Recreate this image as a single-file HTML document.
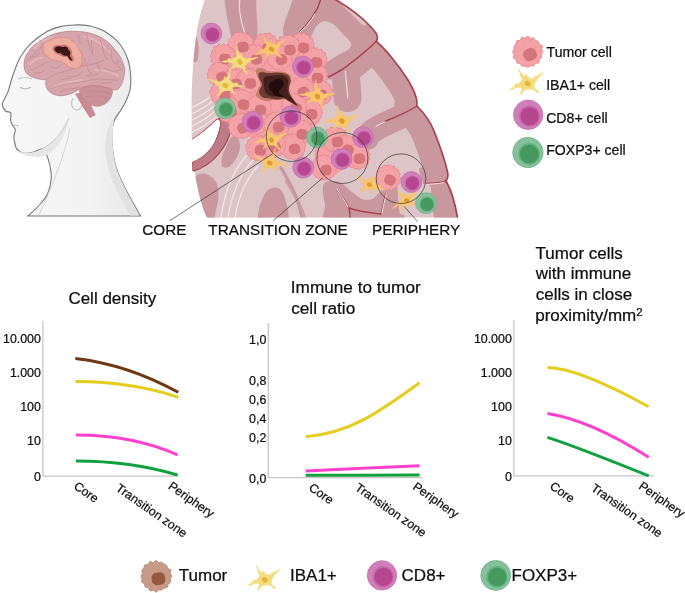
<!DOCTYPE html><html><head><meta charset="utf-8"><title>Figure</title>
<style>html,body{margin:0;padding:0;background:#fff}svg{display:block}text{font-family:"Liberation Sans",Arial,sans-serif;fill:#0c0c0c;stroke:#0c0c0c;stroke-width:0.22px}</style></head><body>
<svg width="685" height="593" viewBox="0 0 685 593">
<rect width="685" height="593" fill="#fff"/>
<g id="head">
<defs><linearGradient id="hg" x1="0" y1="0" x2="1" y2="0"><stop offset="0" stop-color="#f7f7f7"/><stop offset="0.6" stop-color="#f3f3f3"/><stop offset="1" stop-color="#e9e9e9"/></linearGradient></defs>
<path d="M77.7 24.7 C75.0 25.0 66.4 25.3 61.3 26.4 C56.2 27.5 52.1 28.6 47.0 31.5 C41.9 34.4 35.1 39.5 30.7 43.7 C26.3 48.0 23.1 52.4 20.4 57.0 C17.7 61.6 15.9 67.3 14.3 71.3 C12.8 75.3 12.1 77.8 11.1 81.0 C10.1 84.2 9.4 87.8 8.4 90.6 C7.4 93.4 6.0 95.7 5.0 98.0 C4.0 100.3 2.1 102.4 2.2 104.6 C2.3 106.8 4.2 109.6 5.6 111.0 C7.0 112.4 10.0 111.4 10.8 112.9 C11.6 114.4 10.3 117.9 10.6 120.0 C10.9 122.1 11.7 123.9 12.5 125.5 C13.3 127.1 15.1 127.8 15.3 129.6 C15.5 131.4 14.0 134.2 13.9 136.6 C13.8 139.0 14.4 141.8 15.0 144.0 C15.6 146.2 15.8 148.4 17.5 150.0 C19.2 151.6 22.2 153.0 25.0 153.3 C27.8 153.6 31.2 152.7 34.0 152.0 C36.8 151.3 39.7 148.6 41.8 149.0 C43.9 149.4 45.1 151.9 46.5 154.7 C47.9 157.5 49.2 162.1 50.0 166.0 C50.8 169.9 51.7 173.3 51.3 178.0 C50.9 182.7 49.6 189.3 47.5 194.0 C45.4 198.7 41.8 202.3 38.5 206.0 C35.2 209.7 29.7 214.3 27.9 216.0 L140.5 216 C139.1 213.5 134.8 206.0 132.0 201.0 C129.2 196.0 126.5 191.2 124.0 186.0 C121.5 180.8 118.8 175.2 117.0 170.0 C115.2 164.8 114.3 161.3 113.4 155.0 C112.5 148.7 111.6 137.8 111.8 132.0 C112.0 126.2 113.0 123.7 114.5 120.0 C116.0 116.3 119.1 113.2 121.0 110.0 C122.9 106.8 124.5 104.3 126.0 101.0 C127.5 97.7 129.2 93.9 130.0 90.0 C130.8 86.1 131.1 82.6 130.8 77.6 C130.5 72.6 130.0 65.8 128.0 60.0 C126.0 54.2 123.0 47.8 119.0 43.0 C115.0 38.2 108.8 33.8 104.0 31.0 C99.2 28.2 94.4 27.1 90.0 26.0 C85.6 24.9 79.8 24.9 77.7 24.7 Z" fill="url(#hg)" stroke="#777" stroke-width="1.1"/>
<path d="M112 120 C106 130 104 145 106 158 C109 175 118 195 130 215.5 L139.5 215.5 C131 200 123 186 117 170 C113 158 111 135 114 121Z" fill="#e2e2e2"/>
<path d="M17.5 150.5 C25 154 34 153 41.8 149.5 C52 144 62 134 68 120 C66 136 58 150 45 156 C36 158 24 157 17.5 150.5Z" fill="#e6e6e6"/>
<path d="M41.8 149 C52 144 62 134 69 118" fill="none" stroke="#c4c4c4" stroke-width="0.9"/>
<path d="M70 128 C66 150 58 170 50 190 C46 200 42 208 39 215" fill="none" stroke="#d4d4d4" stroke-width="1"/>
<path d="M20 87.5 Q25 90.5 31 87.5" fill="none" stroke="#999" stroke-width="0.8"/>
<path d="M18 79 Q24 76 32 79" fill="none" stroke="#d0d0d0" stroke-width="1.6"/>
<path d="M12.5 125.5 Q16 125 19 126" fill="none" stroke="#aaa" stroke-width="0.7"/>
<path d="M73 98 C70.5 103 71.5 109 76 110 C79 110.5 81.5 108 82 105" fill="none" stroke="#a8a8a8" stroke-width="0.8"/>
<path d="M75.6 94 C80 102 85 110 90 117.5 L95.2 115 C92 108 88 100 85.5 92Z" fill="#c98a92" stroke="#b97b84" stroke-width="0.6"/>
<path d="M78.7 88 C88 84 104 85 112.5 89.5 C113 96 109 102 104 104.5 C98 108 91 106 86 102 C82 98 79.5 93 78.7 88Z" fill="#cb9199" stroke="#b97d86" stroke-width="0.6"/>
<path d="M84 92 C92 90 102 91 110 94" fill="none" stroke="#b97d86" stroke-width="0.5"/>
<path d="M86 97 C93 95 101 96 108 99" fill="none" stroke="#b97d86" stroke-width="0.5"/>
<path d="M90 102 C95 100.5 100 101 104 103" fill="none" stroke="#b97d86" stroke-width="0.5"/>
<path d="M24.1 65 C24 59 26 55 28.5 52 C31 47 36 43.5 42 40.2 C47 36.5 52 34.3 58 33 C65 31.2 71 31 78 31.5 C85 31.8 92 33.2 98 36 C104 38.5 110 43 114.4 49 C119 54 122 59 123.6 65 C125 69 125 73 123.6 77.5 C123 82 121 86 118.5 88.7 C116 90.5 113 90 110 88.7 C104 86 98 85.5 92 85.6 C87 86 83 87 79.7 88.7 C76 91.5 72 93.5 67.4 94.8 C63 96 59 96 55.2 94.8 C51 93.5 48.5 91.5 47 88.7 C45.5 85.5 45.5 82.5 46 79.5 C43 80 40 79.5 36.8 78.5 C33 77.5 29.5 76 26.6 73.4 C24.8 71 24.1 68 24.1 65Z" fill="#d5a5ab" stroke="#bb838c" stroke-width="0.8"/>
<path d="M34 48 C40 42 48 38 56 36" fill="none" stroke="#e3bcc0" stroke-width="2.2" stroke-linecap="round" opacity="0.8"/>
<path d="M84 36 C94 39 104 45 110 53" fill="none" stroke="#e3bcc0" stroke-width="2.2" stroke-linecap="round" opacity="0.8"/>
<path d="M56 86 C64 82 74 82 82 80" fill="none" stroke="#e3bcc0" stroke-width="2.2" stroke-linecap="round" opacity="0.8"/>
<path d="M96 70 C104 70 112 72 118 76" fill="none" stroke="#e3bcc0" stroke-width="2.2" stroke-linecap="round" opacity="0.8"/>
<path d="M30 64 C34 60 38 58 42 58" fill="none" stroke="#e3bcc0" stroke-width="2.2" stroke-linecap="round" opacity="0.8"/>
<path d="M28 60 C34 54 38 52 42 46" fill="none" stroke="#bf8a92" stroke-width="0.7"/>
<path d="M30 70 C38 68 42 64 48 62" fill="none" stroke="#bf8a92" stroke-width="0.7"/>
<path d="M46 79.5 C56 72 66 72 76 68 C86 64 94 66 104 60" fill="none" stroke="#bf8a92" stroke-width="0.7"/>
<path d="M54 88 C64 82 78 84 90 80 C100 78 108 80 118 80" fill="none" stroke="#bf8a92" stroke-width="0.7"/>
<path d="M86 34 C90 42 88 50 94 56" fill="none" stroke="#bf8a92" stroke-width="0.7"/>
<path d="M100 40 C104 48 102 54 108 60" fill="none" stroke="#bf8a92" stroke-width="0.7"/>
<path d="M40 40 C44 46 42 50 46 54" fill="none" stroke="#bf8a92" stroke-width="0.7"/>
<path d="M104 68 C110 72 114 72 120 70" fill="none" stroke="#bf8a92" stroke-width="0.7"/>
<path d="M60 92 C68 88 74 90 80 86" fill="none" stroke="#bf8a92" stroke-width="0.7"/>
<path d="M84 58 C88 64 86 70 92 74" fill="none" stroke="#bf8a92" stroke-width="0.7"/>
<path d="M112 50 C110 56 112 62 116 64" fill="none" stroke="#bf8a92" stroke-width="0.7"/>
<path d="M66 76 C72 78 78 76 82 72" fill="none" stroke="#bf8a92" stroke-width="0.7"/>
<path d="M30 56 C34 58 38 56 40 52" fill="none" stroke="#bf8a92" stroke-width="0.7"/>
<path d="M50 40 C54 38 56 34 60 34" fill="none" stroke="#bf8a92" stroke-width="0.7"/>
<path d="M78 34 C80 38 78 42 82 44" fill="none" stroke="#bf8a92" stroke-width="0.7"/>
<path d="M92 40 C90 46 94 50 92 54" fill="none" stroke="#bf8a92" stroke-width="0.7"/>
<path d="M108 46 C106 50 108 54 112 56" fill="none" stroke="#bf8a92" stroke-width="0.7"/>
<path d="M96 62 C100 66 98 70 102 72" fill="none" stroke="#bf8a92" stroke-width="0.7"/>
<path d="M74 60 C78 62 80 66 84 64" fill="none" stroke="#bf8a92" stroke-width="0.7"/>
<path d="M50 66 C54 70 60 68 62 64" fill="none" stroke="#bf8a92" stroke-width="0.7"/>
<path d="M34 74 C38 72 42 74 44 70" fill="none" stroke="#bf8a92" stroke-width="0.7"/>
<path d="M70 88 C76 90 80 88 84 90" fill="none" stroke="#bf8a92" stroke-width="0.7"/>
<path d="M100 84 C104 82 108 84 112 82" fill="none" stroke="#bf8a92" stroke-width="0.7"/>
<path d="M118 60 C116 64 118 68 122 70" fill="none" stroke="#bf8a92" stroke-width="0.7"/>
<path d="M86 76 C90 74 94 76 98 74" fill="none" stroke="#bf8a92" stroke-width="0.7"/>
<path d="M60 80 C64 78 68 80 72 78" fill="none" stroke="#bf8a92" stroke-width="0.7"/>
<path d="M42.9 48 C42.5 44 45.5 42 49 40.7 C53 37.5 58 37.8 63.4 37.6 C67 36.8 70 38.5 71.5 40.7 C76 42.5 78 46 78.5 49.5 C81.5 51.5 82.5 55 81.8 58 C82.5 62 82 64 80.7 65.2 C79 68 76 69 73.6 68.2 C70 68.5 67 66.5 66 64 C63.5 63.5 62 62.5 61.3 61.1 C57 61.5 52 60.5 49 58 C45 55.5 43 52 42.9 48Z" fill="#eeae9f" stroke="#d98d80" stroke-width="0.9"/>
<path d="M52.5 48 C53.5 45.5 57 44.5 60 45.5 C63 43.5 67.5 44.5 69 47 C72 49 73 52 71.5 54.5 C74 57.5 74.5 60 73 61.5 C70.5 61.5 68.5 59 67.5 56.5 C64 57.5 61 56.5 59 54.5 C55.5 54.5 52.5 51.5 52.5 48Z" fill="#b86a5c" opacity="0.75"/>
<path d="M54.5 48.5 C56 45.8 60 46 62.5 47 C65 45.5 68.5 47 68.5 49.8 C70.8 51.8 71 54.5 69.5 56 C71.5 58 72.5 60 71.5 61 C69.5 60 68.2 57.8 67.2 55.8 C64.5 56 62 55 60.8 53.2 C57.5 53.5 54.5 51.5 54.5 48.5Z" fill="#3a1714"/>
</g>
<defs><clipPath id="sec"><path d="M205.4 -2 L333 -2 C345 5 359 14.5 369 25 C375 31 379.5 36 376.5 41 L377.5 42.5 C385 49 398 64 408 80 C414 90 418 98 416.8 105 L417.3 106.5 C424 113 430 121 434 131 C440 146 445 160 447.5 172 C448.5 177 447.5 179.5 445.8 181 L446.6 182 C451 190 455 203 457.5 217.5 L207 217.5 C202 208 198 192 194.8 172.5 L192.5 171 L192 162 C200 159 208 153 213 145 C217 138 220.5 128 220 121.5 C219 119 217.5 119 216 120.5 C208 128 200 135 191.8 139.7 L191.6 100 C192 75 194 50 197 30 C199 18 202 8 205.4 -2Z"/></clipPath></defs>
<g clip-path="url(#sec)">
<rect x="185" y="-5" width="280" height="226" fill="#ddc4c6"/>
<g fill="none" stroke="#c9989f" stroke-linecap="round" stroke-linejoin="round">
<path d="M293 -2 C290 10 284 20 283 30 C283 40 288 50 296 56 L330 80 L380 42 L333 -4Z" fill="#c9989f" stroke="none"/>
<path d="M377.5 42.5 C385 49 398 64 408 80 C414 90 418 98 416.8 105" stroke-width="43"/>
<path d="M417.3 106.5 C424 113 430 121 434 131 C440 146 445 160 447.5 172 C448.5 177 447.5 179.5 445.8 181 L446.6 182 C451 190 455 203 457.5 217.5" stroke-width="46"/>
<path d="M378 43 C370 52 357 62 345 71 C346 78 347 88 347.5 98" stroke-width="28"/>
<path d="M417 108 C405 116 392 120.5 381 126 C373 130 368 134 367 138" stroke-width="24"/>
</g>
<path d="M419 168 L447 166 L447 183 L428 183.6 C423 183.6 420 180 419 168Z" fill="#c9989f"/>
<path d="M311.0 38.0 C312.3 34.2 314.0 29.8 316.0 27.0 C318.0 24.2 320.2 22.0 323.0 21.5 C325.8 21.0 329.7 21.9 333.0 24.0 C336.3 26.1 340.0 30.8 343.0 34.0 C346.0 37.2 350.0 40.5 351.0 43.0 C352.0 45.5 351.2 47.0 349.0 49.0 C346.8 51.0 341.8 52.8 338.0 55.0 C334.2 57.2 329.7 61.2 326.0 62.0 C322.3 62.8 319.0 62.0 316.0 60.0 C313.0 58.0 308.8 53.7 308.0 50.0 C307.2 46.3 309.7 41.8 311.0 38.0Z" fill="#ddc4c6"/>
<path d="M224.5 -2 L256.5 -2 C255.5 12 258 24 257.5 36 C257 46 250 52 244 52 C238 52 233 44 230 32 C228 20 225 10 224.5 -2Z" fill="#c9989f"/>
<path d="M195 34 C199 40 200 52 197 62 L192 62 L192 34Z" fill="#c9989f"/>
<path d="M196.0 176.0 C197.8 173.7 202.7 173.0 206.0 174.0 C209.3 175.0 213.9 178.3 216.0 182.0 C218.1 185.7 218.5 191.3 218.5 196.0 C218.5 200.7 216.9 205.7 216.0 210.0 C215.1 214.3 215.2 220.0 213.0 222.0 C210.8 224.0 205.5 224.8 203.0 222.0 C200.5 219.2 199.3 210.7 198.0 205.0 C196.7 199.3 195.3 192.8 195.0 188.0 C194.7 183.2 194.2 178.3 196.0 176.0Z" fill="#c9989f"/>
<path d="M232.0 137.0 C234.0 135.7 236.7 137.3 238.0 139.0 C239.3 140.7 240.2 144.0 240.0 147.0 C239.8 150.0 238.7 153.8 237.0 157.0 C235.3 160.2 232.3 164.3 230.0 166.0 C227.7 167.7 224.4 168.2 223.0 167.0 C221.6 165.8 221.0 162.3 221.5 159.0 C222.0 155.7 224.2 150.7 226.0 147.0 C227.8 143.3 230.0 138.3 232.0 137.0Z" fill="#c9989f"/>
<path d="M262.0 200.0 C263.5 196.7 265.3 192.0 268.0 190.0 C270.7 188.0 275.2 186.7 278.0 188.0 C280.8 189.3 283.5 192.3 285.0 198.0 C286.5 203.7 291.2 218.0 287.0 222.0 C282.8 226.0 264.7 224.0 260.0 222.0 C255.3 220.0 258.7 213.7 259.0 210.0 C259.3 206.3 260.5 203.3 262.0 200.0Z" fill="#c9989f"/>
<path d="M281 168 C288 180 298 195 302 218" fill="none" stroke="#c9989f" stroke-width="3.2" stroke-linecap="round"/>
<path d="M286 181 C294 195 302 205 305 218" fill="none" stroke="#c9989f" stroke-width="2.5" stroke-linecap="round" opacity="0.8"/>
<path d="M323.0 186.0 C323.8 182.0 327.0 181.5 330.0 181.0 C333.0 180.5 337.3 181.2 341.0 183.0 C344.7 184.8 348.5 189.3 352.0 192.0 C355.5 194.7 358.7 197.8 362.0 199.0 C365.3 200.2 369.0 200.2 372.0 199.0 C375.0 197.8 377.3 194.2 380.0 192.0 C382.7 189.8 385.2 187.0 388.0 186.0 C390.8 185.0 395.3 183.7 397.0 186.0 C398.7 188.3 397.5 194.0 398.0 200.0 C398.5 206.0 411.3 218.3 400.0 222.0 C388.7 225.7 342.5 224.8 330.0 222.0 C317.5 219.2 326.2 211.0 325.0 205.0 C323.8 199.0 322.2 190.0 323.0 186.0Z" fill="#c9989f"/>
<path d="M399 184 L426 184 Q431 184 431 189 L431 210 Q431 215 426 215 L404 215 Q399 215 399 210Z" fill="#ddc4c6"/>
<path d="M216 120.5 C217.5 119 219 119 220 121.5 C220.5 128 217 138 213 145 C208 153 200 159 192 162 L192 171.5 C203.5 168.5 213 161.5 220.2 152 C227.5 142 231.5 131.5 230.5 125 C229 118 222 115.5 216 120.5Z" fill="#bd7c87" stroke="#a8424f" stroke-width="1.2"/>
<path d="M191.8 139.7 C200 135 208 128 216 120.5" fill="none" stroke="#a8424f" stroke-width="1.2"/>
<g fill="none" stroke="#f3e6e7" stroke-width="1.3" stroke-linecap="round">
<path d="M191 108.0 C200 104.0 208 99.0 216 92.0"/>
<path d="M191 114.2 C200 110.2 208 105.2 216 98.2"/>
<path d="M191 120.4 C200 116.4 208 111.4 216 104.4"/>
<path d="M191 126.6 C200 122.6 208 117.6 216 110.6"/>
<path d="M191 132.8 C200 128.8 208 123.8 216 116.8"/>
<path d="M221 218 C224 195 232 172 247 155"/>
<path d="M228 218 C231 197 239 176 253 160"/>
<path d="M235 218 C238 199 245 180 258 166"/>
</g>
<g fill="none" stroke="#a8424f" stroke-width="1.5" stroke-linecap="round">
<path d="M321 -2 C318 12 308 24 298 34"/>
<path d="M376.5 41 C368 50 355 60 343 69 C338 72 333 75 328 77"/>
<path d="M417 106 C405 114 392 118 385 121.5"/>
<path d="M446 181.5 C438 183 432 183 427 183.5"/>
<path d="M337.5 190 C342 196 346 202 349 208 C360 212 372 213 381 214 C383 208 384 200 385.5 194"/>
<path d="M349 208 C350 212 350 215 350 218"/>
</g>
<g fill="none" stroke="#f6ecec" stroke-width="1" stroke-linecap="round">
<path d="M240 -2 C238 12 242 24 245 33.5"/>
<path d="M315 14 C311 21 305 28 299 33"/>
<path d="M345.2 71 C346 78 347 88 347.8 98"/>
<path d="M385 122 C381 123.5 378 125 376 126.5"/>
<path d="M427 184.3 C432 184 438 183.8 444 182.5"/>
<path d="M337 189 C341 195 345 201 348 207"/>
<path d="M382 213 C383.5 207 384.5 200 386 194"/>
</g>
</g>
<path d="M333 -2 C345 5 359 14.5 369 25 C375 31 379.5 36 376.5 41 L377.5 42.5 C385 49 398 64 408 80 C414 90 418 98 416.8 105 L417.3 106.5 C424 113 430 121 434 131 C440 146 445 160 447.5 172 C448.5 177 447.5 179.5 445.8 181 L446.6 182 C451 190 455 203 457.5 217.5" fill="none" stroke="#a8424f" stroke-width="1.7"/>
<path d="M214.0 62.0 C215.3 56.0 217.7 51.5 222.0 48.0 C226.3 44.5 234.3 41.8 240.0 41.0 C245.7 40.2 250.7 42.2 256.0 43.0 C261.3 43.8 266.3 45.2 272.0 46.0 C277.7 46.8 284.3 48.0 290.0 48.0 C295.7 48.0 301.0 45.0 306.0 46.0 C311.0 47.0 316.8 50.0 320.0 54.0 C323.2 58.0 324.2 64.0 325.0 70.0 C325.8 76.0 325.7 83.3 325.0 90.0 C324.3 96.7 322.3 104.3 321.0 110.0 C319.7 115.7 319.5 119.3 317.0 124.0 C314.5 128.7 309.2 133.7 306.0 138.0 C302.8 142.3 301.7 147.7 298.0 150.0 C294.3 152.3 289.0 152.7 284.0 152.0 C279.0 151.3 273.3 148.3 268.0 146.0 C262.7 143.7 256.7 140.7 252.0 138.0 C247.3 135.3 243.3 134.0 240.0 130.0 C236.7 126.0 235.5 119.0 232.0 114.0 C228.5 109.0 222.0 105.0 219.0 100.0 C216.0 95.0 214.8 90.3 214.0 84.0 C213.2 77.7 212.7 68.0 214.0 62.0Z" fill="#f4a0a6"/>
<path d="M318.0 142.0 C321.5 138.0 330.3 135.7 336.0 136.0 C341.7 136.3 347.3 141.0 352.0 144.0 C356.7 147.0 362.2 150.5 364.0 154.0 C365.8 157.5 365.7 162.8 363.0 165.0 C360.3 167.2 352.8 165.3 348.0 167.0 C343.2 168.7 338.5 174.0 334.0 175.0 C329.5 176.0 324.2 175.5 321.0 173.0 C317.8 170.5 315.5 165.2 315.0 160.0 C314.5 154.8 314.5 146.0 318.0 142.0Z" fill="#f4a0a6"/>
<path d="M254.4 44.8L252.9 47.2 L253.0 49.8L250.7 51.3 L250.2 54.0L247.6 54.6 L246.1 57.2L243.3 56.3 L241.0 57.8L238.7 56.5 L235.8 57.3L234.4 54.7 L231.9 53.9L231.0 51.5 L228.8 49.8L229.5 47.1 L227.5 44.8L229.0 42.4 L228.6 39.7L230.9 38.0 L231.9 35.7L234.3 34.8 L235.8 32.3L238.7 33.0 L241.0 31.8L243.3 33.5 L246.0 32.8L247.6 34.8 L250.5 35.3L251.2 38.0 L253.1 39.8L252.9 42.4 L254.4 44.8Z" fill="#f4a2a6" stroke="#e6858d" stroke-width="0.8" stroke-linejoin="round"/><path d="M240.3 55.2h0.01M234.0 42.6h0.01M239.3 36.1h0.01M245.5 36.0h0.01M250.2 44.9h0.01M246.5 38.7h0.01M236.1 54.3h0.01" stroke="#e6858d" stroke-width="1" stroke-linecap="round" fill="none"/>
<path d="M275.7 54.0L273.6 55.3 L272.1 57.7L269.2 57.0 L267.1 58.8L264.7 57.6 L262.0 58.4L260.2 56.4 L257.9 55.5L257.0 53.0 L254.1 52.0L254.6 49.1 L252.7 46.9L254.6 44.5 L253.6 41.9L255.4 40.0 L256.2 37.6L258.4 36.2 L259.8 33.8L262.8 34.7 L264.9 33.3L267.3 34.0 L270.1 32.9L271.7 35.5 L274.2 36.0L275.2 38.4 L277.2 40.0L277.2 42.6 L279.0 44.7L277.8 47.1 L278.2 49.7L276.2 51.4 L275.7 54.0Z" fill="#f4a2a6" stroke="#e6858d" stroke-width="0.8" stroke-linejoin="round"/><path d="M267.8 54.7h0.01M264.2 52.9h0.01M270.9 37.7h0.01M261.0 39.6h0.01M276.7 45.3h0.01M272.2 51.7h0.01M264.2 35.9h0.01" stroke="#e6858d" stroke-width="1" stroke-linecap="round" fill="none"/>
<path d="M303.9 59.0L301.3 57.8 L298.8 57.9L296.9 56.2 L293.9 56.6L292.9 53.9 L290.4 52.7L290.7 49.8 L288.6 47.8L289.6 45.3 L288.8 42.7L291.0 40.9 L291.0 38.1L293.5 37.0 L294.5 34.4L297.2 34.1 L299.3 32.3L301.9 33.7 L304.5 32.9L306.4 34.9 L308.9 35.3L309.9 37.7 L312.6 38.6L312.6 41.4 L314.4 43.4L313.8 45.9 L314.4 48.5L312.5 50.4 L312.0 53.0L309.5 53.9 L308.5 56.5L305.8 56.4 L303.9 59.0Z" fill="#f4a2a6" stroke="#e6858d" stroke-width="0.8" stroke-linejoin="round"/><path d="M290.4 44.9h0.01M298.0 38.5h0.01M309.8 39.1h0.01M300.5 34.8h0.01M302.4 35.2h0.01M294.8 54.5h0.01M309.3 43.7h0.01" stroke="#e6858d" stroke-width="1" stroke-linecap="round" fill="none"/>
<path d="M281.5 58.8L280.1 56.7 L277.7 55.6L277.2 53.0 L275.2 51.1L276.5 48.5 L275.6 46.1L276.5 43.8 L276.9 41.3L279.3 40.1 L279.8 37.0L282.8 37.1 L284.6 34.8L287.3 36.0 L289.8 34.7L291.8 36.8 L294.7 36.4L296.1 38.7 L298.4 39.9L298.9 42.5 L300.8 44.4L299.5 47.1 L301.2 49.6L299.3 51.7 L299.1 54.3L296.6 55.4 L296.1 58.5L293.2 58.5 L291.4 60.7L288.7 60.0 L286.2 61.0L284.0 59.3 L281.5 58.8Z" fill="#f4a2a6" stroke="#e6858d" stroke-width="0.8" stroke-linejoin="round"/><path d="M279.8 54.2h0.01M277.7 51.5h0.01M293.5 42.5h0.01M293.3 53.9h0.01M296.8 45.9h0.01M282.1 41.8h0.01M279.2 47.4h0.01" stroke="#e6858d" stroke-width="1" stroke-linecap="round" fill="none"/>
<path d="M210.9 61.1L211.6 58.5 L210.1 56.1L211.7 54.0 L211.6 51.4L213.5 49.8 L213.9 46.8L216.8 46.4 L218.5 44.2L221.3 45.3 L223.7 43.7L225.9 45.5 L228.5 45.3L229.9 47.5 L232.5 48.2L233.5 50.5 L235.6 52.3L235.0 55.0 L236.4 57.5L234.3 59.7 L234.6 62.3L232.6 64.0 L231.9 66.7L229.2 67.2 L227.5 69.5L224.7 68.2 L222.3 70.0L220.1 68.4 L217.4 68.6L216.1 66.1 L213.3 65.5L213.1 62.7 L210.9 61.1Z" fill="#f4a2a6" stroke="#e6858d" stroke-width="0.8" stroke-linejoin="round"/><path d="M232.8 52.5h0.01M214.9 54.3h0.01M231.0 51.6h0.01M230.8 49.6h0.01M214.1 56.3h0.01M215.7 51.6h0.01M227.5 64.0h0.01" stroke="#e6858d" stroke-width="1" stroke-linecap="round" fill="none"/>
<path d="M242.1 52.5L244.2 50.7 L244.7 48.0L247.4 47.2 L249.0 45.0L251.7 45.2 L254.1 44.5L256.4 45.4 L259.2 44.4L260.8 46.9 L263.7 47.2L263.9 50.3 L266.4 51.7L265.9 54.4 L267.6 56.7L266.3 59.0 L266.3 61.5L264.4 63.2 L263.9 65.9L261.6 67.0 L260.0 69.3L257.2 68.4 L255.0 70.5L252.6 68.5 L249.9 69.5L248.4 66.9 L245.9 66.3L244.6 64.2 L242.9 62.4L243.2 59.8 L240.9 57.6L242.5 55.1 L242.1 52.5Z" fill="#f4a2a6" stroke="#e6858d" stroke-width="0.8" stroke-linejoin="round"/><path d="M251.8 67.8h0.01M244.9 54.7h0.01M257.6 67.6h0.01M250.5 46.8h0.01M261.1 51.9h0.01M249.4 63.2h0.01M259.1 63.1h0.01" stroke="#e6858d" stroke-width="1" stroke-linecap="round" fill="none"/>
<path d="M272.9 45.8L275.7 46.0 L277.9 44.5L280.4 45.8 L282.9 45.4L284.9 46.8 L287.6 47.2L288.7 49.6 L290.8 51.2L291.0 53.7 L292.2 56.0L291.6 58.4 L292.3 61.1L290.0 62.8 L289.8 65.6L287.3 66.6 L285.7 68.6L283.2 68.8 L281.1 70.8L278.6 69.2 L275.9 70.4L274.1 68.2 L271.2 68.1L270.6 65.1 L268.5 63.7L268.0 61.3 L266.2 59.1L267.7 56.6 L267.3 54.1L269.1 52.2 L269.1 49.3L271.9 48.6 L272.9 45.8Z" fill="#f4a2a6" stroke="#e6858d" stroke-width="0.8" stroke-linejoin="round"/><path d="M288.6 54.6h0.01M282.5 66.9h0.01M272.5 65.9h0.01M287.3 52.5h0.01M273.3 49.6h0.01M283.3 47.0h0.01M288.1 59.0h0.01" stroke="#e6858d" stroke-width="1" stroke-linecap="round" fill="none"/>
<path d="M316.9 47.6L318.8 49.5 L321.8 49.2L322.6 52.1 L325.3 52.9L325.3 55.7 L326.8 57.7L326.4 60.2 L326.9 62.6L325.5 64.7 L325.0 67.2L322.7 68.4 L321.8 71.0L319.2 71.5 L317.1 72.7L314.6 72.0 L312.0 73.3L309.9 71.6 L307.3 71.3L306.2 68.7 L303.3 67.9L303.9 64.8 L301.3 63.0L302.8 60.4 L302.0 57.9L303.8 56.0 L303.7 53.2L305.8 51.8 L307.3 49.8L309.8 49.3 L311.8 47.4L314.4 48.5 L316.9 47.6Z" fill="#f4a2a6" stroke="#e6858d" stroke-width="0.8" stroke-linejoin="round"/><path d="M307.3 58.1h0.01M322.0 63.3h0.01M310.7 52.2h0.01M310.7 69.1h0.01M306.4 62.7h0.01M317.3 50.7h0.01M314.9 69.8h0.01" stroke="#e6858d" stroke-width="1" stroke-linecap="round" fill="none"/>
<path d="M229.9 66.7L230.8 69.1 L232.1 71.2L232.0 73.7 L232.6 76.1L231.2 78.2 L232.0 81.3L229.0 82.2 L228.3 85.1L225.5 85.3 L223.7 87.3L221.1 86.6 L218.7 87.5L216.4 86.4 L214.0 85.9L212.6 83.8 L210.3 82.7L209.7 80.3 L207.6 78.5L207.9 75.9 L207.1 73.5L208.9 71.4 L208.7 68.7L210.5 67.0 L212.0 65.0L214.4 64.2 L216.3 62.4L218.9 62.8 L221.3 62.0L223.5 63.3 L226.2 63.3L227.6 65.6 L229.9 66.7Z" fill="#f4a2a6" stroke="#e6858d" stroke-width="0.8" stroke-linejoin="round"/><path d="M227.8 69.2h0.01M224.7 80.7h0.01M228.7 71.7h0.01M223.8 85.1h0.01M211.1 70.0h0.01M226.2 69.1h0.01M213.3 83.2h0.01" stroke="#e6858d" stroke-width="1" stroke-linecap="round" fill="none"/>
<path d="M247.0 82.0L245.5 84.3 L245.6 86.9L244.0 88.7 L242.7 90.8L240.4 91.8 L239.0 94.3L236.1 93.2 L233.8 94.9L231.5 93.5 L229.0 93.3L227.3 91.5 L224.5 91.0L224.0 88.2 L221.6 86.7L222.6 83.9 L221.2 81.6L222.7 79.4 L222.0 76.6L224.0 74.8 L224.8 72.3L227.4 71.6 L229.2 69.8L231.8 69.9 L234.2 69.2L236.5 70.4 L239.3 69.6L240.9 71.9 L243.3 72.8L243.7 75.5 L245.9 77.1L245.5 79.7 L247.0 82.0Z" fill="#f4a2a6" stroke="#e6858d" stroke-width="0.8" stroke-linejoin="round"/><path d="M232.0 92.1h0.01M237.4 92.0h0.01M239.4 76.7h0.01M227.3 88.2h0.01M242.8 83.1h0.01M240.4 77.5h0.01M227.6 77.4h0.01" stroke="#e6858d" stroke-width="1" stroke-linecap="round" fill="none"/>
<path d="M258.4 89.9L255.7 90.7 L254.4 93.1L251.5 92.5 L249.4 94.7L247.0 93.3 L244.3 93.8L242.7 91.4 L239.9 91.2L239.2 88.5 L237.0 87.0L236.7 84.5 L234.9 82.2L237.1 79.8 L235.8 77.0L238.1 75.4 L238.7 72.8L241.3 72.0 L242.6 69.4L245.4 69.9 L247.6 68.1L250.0 69.4 L252.5 69.3L254.5 70.8 L257.4 71.1L258.2 73.8 L260.3 75.4L259.6 78.3 L261.0 80.4L260.0 82.8 L261.3 85.6L258.7 87.1 L258.4 89.9Z" fill="#f4a2a6" stroke="#e6858d" stroke-width="0.8" stroke-linejoin="round"/><path d="M241.3 89.4h0.01M244.8 90.0h0.01M241.6 84.2h0.01M239.4 75.9h0.01M253.0 88.1h0.01M242.2 85.2h0.01M238.0 81.5h0.01" stroke="#e6858d" stroke-width="1" stroke-linecap="round" fill="none"/>
<path d="M317.5 88.7L315.0 87.7 L312.3 88.9L310.5 86.5 L307.8 86.4L306.7 83.9 L304.6 82.4L304.3 79.9 L302.5 77.8L303.4 75.3 L303.2 72.8L304.9 70.9 L305.3 68.3L307.3 66.9 L308.6 64.5L311.5 65.0 L313.4 62.4L316.0 63.6 L318.6 62.9L320.5 64.9 L323.0 65.5L324.0 68.0 L326.7 69.0L326.3 71.8 L328.1 73.8L327.2 76.3 L327.7 78.8L326.2 80.8 L326.0 83.5L323.7 84.7 L322.3 87.0L319.6 87.1 L317.5 88.7Z" fill="#f4a2a6" stroke="#e6858d" stroke-width="0.8" stroke-linejoin="round"/><path d="M305.6 75.8h0.01M307.4 78.0h0.01M326.7 75.6h0.01M320.9 67.3h0.01M312.2 83.3h0.01M313.7 83.1h0.01M316.4 67.0h0.01" stroke="#e6858d" stroke-width="1" stroke-linecap="round" fill="none"/>
<path d="M313.2 103.9L311.9 101.6 L309.3 100.6L309.5 97.7 L307.8 95.8L308.2 93.3 L307.3 90.8L308.6 88.6 L308.7 85.9L311.2 84.7 L312.2 82.2L314.9 81.9 L317.0 80.5L319.5 81.0 L321.9 80.2L324.2 81.3 L326.5 82.0L328.2 83.9 L330.2 85.3L330.9 87.7 L332.5 89.7L331.8 92.3 L333.3 94.9L330.8 96.7 L330.8 99.3L329.0 101.1 L327.7 103.4L324.9 103.3 L323.2 106.0L320.5 105.0 L318.1 105.3L316.0 103.9 L313.2 103.9Z" fill="#f4a2a6" stroke="#e6858d" stroke-width="0.8" stroke-linejoin="round"/><path d="M325.6 99.2h0.01M314.3 87.3h0.01M317.6 85.7h0.01M325.0 102.0h0.01M312.8 98.0h0.01M312.5 87.6h0.01M314.5 97.7h0.01" stroke="#e6858d" stroke-width="1" stroke-linecap="round" fill="none"/>
<path d="M210.6 96.9L210.8 94.3 L209.5 91.9L211.0 89.6 L211.3 87.1L213.5 85.7 L214.4 83.2L216.9 82.7 L218.5 80.2L221.2 81.3 L223.6 79.7L225.7 81.6 L228.4 81.3L229.9 83.4 L232.8 84.0L233.1 86.8 L234.6 88.8L234.3 91.3 L235.4 93.7L234.5 96.0 L234.7 98.8L232.3 100.2 L231.5 102.9L228.7 103.3 L227.0 105.6L224.3 104.8 L221.8 105.6L219.5 104.5 L216.9 104.5L215.3 102.4 L212.8 101.4L212.4 98.7 L210.6 96.9Z" fill="#f4a2a6" stroke="#e6858d" stroke-width="0.8" stroke-linejoin="round"/><path d="M216.8 99.6h0.01M219.7 99.9h0.01M227.1 83.4h0.01M232.7 91.9h0.01M213.1 89.4h0.01M229.3 100.3h0.01M215.2 95.6h0.01" stroke="#e6858d" stroke-width="1" stroke-linecap="round" fill="none"/>
<path d="M229.8 97.7L231.5 95.8 L232.1 93.1L234.6 92.3 L236.5 90.5L239.1 90.9 L241.4 89.0L243.7 90.5 L246.3 90.3L248.1 92.2 L250.6 93.0L251.5 95.4 L253.2 97.2L253.0 99.8 L255.1 102.1L253.2 104.4 L253.5 107.0L251.8 108.9 L251.1 111.5L248.2 111.8 L246.8 114.3L244.1 114.0 L241.8 115.0L239.5 114.1 L237.0 114.1L235.2 112.2 L232.8 111.4L232.0 108.9 L229.2 107.7L230.1 104.8 L228.0 102.5L230.0 100.2 L229.8 97.7Z" fill="#f4a2a6" stroke="#e6858d" stroke-width="0.8" stroke-linejoin="round"/><path d="M233.2 95.6h0.01M238.6 95.2h0.01M233.3 97.1h0.01M244.8 109.2h0.01M248.2 95.7h0.01M244.7 110.8h0.01M243.7 112.5h0.01" stroke="#e6858d" stroke-width="1" stroke-linecap="round" fill="none"/>
<path d="M294.9 77.9L297.9 78.8 L299.9 76.6L302.4 78.2 L305.2 76.8L306.7 79.6 L309.8 79.3L310.6 82.1 L313.1 83.4L313.0 86.2 L314.0 88.5L313.0 90.9 L314.0 93.6L311.6 95.3 L311.2 97.9L308.7 98.8 L307.7 101.6L304.9 101.4 L302.7 103.1L300.2 101.4 L297.4 102.8L295.7 100.3 L293.2 99.7L292.2 97.4 L289.9 96.0L290.3 93.2 L288.2 91.1L289.6 88.7 L288.7 86.0L290.5 84.1 L291.0 81.5L293.8 80.7 L294.9 77.9Z" fill="#f4a2a6" stroke="#e6858d" stroke-width="0.8" stroke-linejoin="round"/><path d="M308.6 81.3h0.01M290.3 90.5h0.01M309.1 90.7h0.01M306.5 99.5h0.01M297.6 80.4h0.01M299.2 98.8h0.01M307.1 84.8h0.01" stroke="#e6858d" stroke-width="1" stroke-linecap="round" fill="none"/>
<path d="M231.6 97.1L233.6 98.9 L236.3 99.1L237.4 101.5 L239.8 102.7L240.1 105.3 L241.6 107.4L241.0 109.9 L241.3 112.3L239.8 114.4 L239.7 117.0L237.1 118.1 L236.3 120.9L233.4 120.7 L231.5 122.9L228.9 122.0 L226.4 122.3L224.2 121.0 L221.5 120.9L220.4 118.2 L218.5 116.7L218.0 114.2 L216.0 112.3L217.3 109.7 L216.5 107.2L218.2 105.2 L218.4 102.6L220.5 101.2 L221.9 99.0L224.6 98.8 L226.5 96.8L229.1 97.6 L231.6 97.1Z" fill="#f4a2a6" stroke="#e6858d" stroke-width="0.8" stroke-linejoin="round"/><path d="M227.0 117.0h0.01M239.4 108.1h0.01M231.3 100.8h0.01M229.8 117.6h0.01M226.0 118.4h0.01M238.2 113.8h0.01M228.0 102.6h0.01" stroke="#e6858d" stroke-width="1" stroke-linecap="round" fill="none"/>
<path d="M268.8 99.7L269.3 102.3 L271.5 104.1L270.2 106.9 L271.8 109.4L269.9 111.5 L270.0 114.3L267.3 115.3 L266.3 117.7L263.8 118.3 L262.1 120.6L259.4 119.4 L256.9 120.8L254.9 119.0 L251.9 119.5L250.5 117.1 L248.3 115.8L247.6 113.4 L246.4 111.2L246.4 108.7 L245.1 106.2L247.5 104.2 L246.9 101.3L249.4 100.0 L250.1 97.1L253.2 97.4 L255.0 95.2L257.6 95.7 L260.1 94.7L262.1 96.6 L264.7 96.8L266.5 98.5 L268.8 99.7Z" fill="#f4a2a6" stroke="#e6858d" stroke-width="0.8" stroke-linejoin="round"/><path d="M247.4 109.6h0.01M265.1 115.9h0.01M262.7 97.8h0.01M267.2 108.8h0.01M268.2 111.1h0.01M251.7 116.6h0.01M251.2 115.1h0.01" stroke="#e6858d" stroke-width="1" stroke-linecap="round" fill="none"/>
<path d="M322.4 112.5L321.4 114.8 L321.4 117.4L319.2 118.9 L318.6 121.6L316.0 122.2 L314.3 124.3L311.6 123.8 L309.3 124.9L307.0 123.5 L304.2 124.2L302.9 121.6 L300.0 121.2L299.4 118.5 L297.1 116.8L297.6 114.1 L296.9 111.7L298.3 109.4 L297.6 106.6L300.0 105.1 L301.0 102.8L303.4 101.9 L305.0 99.5L307.7 100.1 L310.1 99.3L312.4 100.7 L314.9 100.7L316.8 102.1 L319.0 103.4L319.9 105.7 L322.0 107.5L321.5 110.2 L322.4 112.5Z" fill="#f4a2a6" stroke="#e6858d" stroke-width="0.8" stroke-linejoin="round"/><path d="M299.3 110.3h0.01M302.9 107.1h0.01M316.6 118.1h0.01M316.6 108.5h0.01M305.8 103.2h0.01M314.0 118.9h0.01M306.2 103.8h0.01" stroke="#e6858d" stroke-width="1" stroke-linecap="round" fill="none"/>
<path d="M303.8 114.7L301.2 115.5 L299.6 117.6L296.9 117.3 L294.7 118.7L292.2 117.9 L289.7 117.9L288.1 115.8 L285.4 115.3L284.6 112.8 L282.4 111.3L282.7 108.7 L281.4 106.5L282.4 104.1 L281.9 101.5L283.7 99.7 L284.5 97.3L287.1 96.5 L288.5 94.3L291.1 94.3 L293.3 92.9L295.7 93.9 L298.5 93.2L300.0 95.7 L302.5 96.4L303.7 98.6 L306.0 100.1L305.4 102.9 L307.2 105.1L305.6 107.5 L306.7 110.3L304.4 112.0 L303.8 114.7Z" fill="#f4a2a6" stroke="#e6858d" stroke-width="0.8" stroke-linejoin="round"/><path d="M296.9 95.1h0.01M295.0 115.2h0.01M292.8 95.4h0.01M288.0 110.8h0.01M288.6 100.3h0.01M292.0 98.8h0.01M285.2 108.4h0.01" stroke="#e6858d" stroke-width="1" stroke-linecap="round" fill="none"/>
<path d="M242.8 139.2L240.3 137.8 L237.6 138.7L235.7 136.8 L233.3 136.0L232.0 133.8 L229.4 132.6L229.5 129.8 L228.0 127.6L229.4 125.1 L228.4 122.5L230.0 120.4 L230.9 118.2L233.2 117.0 L234.2 114.1L237.1 114.6 L239.3 113.2L241.7 114.1 L244.4 112.7L246.1 115.2 L248.8 115.4L250.0 117.8 L252.6 119.0L252.2 121.9 L253.5 124.1L252.9 126.5 L253.2 129.0L251.4 130.8 L251.2 133.5L249.0 134.8 L247.5 136.9L244.9 137.2 L242.8 139.2Z" fill="#f4a2a6" stroke="#e6858d" stroke-width="0.8" stroke-linejoin="round"/><path d="M245.0 132.4h0.01M250.9 127.3h0.01M246.1 119.5h0.01M241.6 133.1h0.01M235.8 119.1h0.01M247.4 133.2h0.01M233.7 120.5h0.01" stroke="#e6858d" stroke-width="1" stroke-linecap="round" fill="none"/>
<path d="M248.2 132.6L246.7 130.5 L244.2 129.4L244.2 126.6 L242.5 124.6L242.9 122.1 L241.8 119.5L243.9 117.5 L243.9 114.8L246.5 113.8 L247.8 111.6L250.2 111.0 L252.1 109.0L254.7 110.3 L257.3 108.6L259.2 110.9 L261.8 111.0L262.9 113.4 L266.1 114.0L266.0 116.9 L268.1 118.8L267.0 121.5 L267.4 123.9L266.0 126.0 L266.1 128.8L263.4 129.8 L262.8 132.9L259.8 132.6 L257.8 134.2L255.3 133.9 L252.9 134.3L250.6 133.2 L248.2 132.6Z" fill="#f4a2a6" stroke="#e6858d" stroke-width="0.8" stroke-linejoin="round"/><path d="M246.0 124.5h0.01M249.9 129.5h0.01M257.9 128.6h0.01M260.5 115.7h0.01M256.5 113.9h0.01M265.6 119.7h0.01M255.3 111.5h0.01" stroke="#e6858d" stroke-width="1" stroke-linecap="round" fill="none"/>
<path d="M263.8 129.0L265.2 126.2 L264.2 123.8L264.9 121.5 L265.4 119.0L267.7 117.7 L268.2 114.8L271.0 114.6 L272.6 112.1L275.4 113.3 L277.8 111.4L280.0 113.6 L282.8 113.2L284.3 115.3 L286.8 116.3L287.4 119.0 L289.4 120.9L288.2 123.6 L290.1 126.0L288.2 128.2 L288.1 130.8L285.8 132.2 L285.4 135.2L282.5 135.4 L280.8 137.8L278.0 136.9 L275.6 138.4L273.4 136.4 L270.6 136.7L269.2 134.3 L266.9 133.2L266.0 130.8 L263.8 129.0Z" fill="#f4a2a6" stroke="#e6858d" stroke-width="0.8" stroke-linejoin="round"/><path d="M272.7 134.5h0.01M286.1 122.1h0.01M283.3 133.1h0.01M272.7 118.0h0.01M285.6 127.7h0.01M287.4 127.1h0.01M267.4 124.5h0.01" stroke="#e6858d" stroke-width="1" stroke-linecap="round" fill="none"/>
<path d="M287.7 126.8L290.0 125.2 L290.7 122.5L293.8 122.4 L295.2 119.8L297.9 120.4 L300.2 118.9L302.5 120.6 L305.1 120.2L306.8 122.2 L309.2 123.0L310.0 125.4 L311.8 127.2L311.5 129.7 L313.5 132.0L311.8 134.3 L312.3 137.0L310.2 138.7 L309.3 141.1L306.6 141.6 L305.3 144.3L302.5 143.7 L300.2 145.2L297.9 143.7 L295.0 144.5L293.7 141.8 L290.8 141.4L290.4 138.5 L288.1 137.0L288.4 134.4 L287.3 132.0L288.9 129.8 L287.7 126.8Z" fill="#f4a2a6" stroke="#e6858d" stroke-width="0.8" stroke-linejoin="round"/><path d="M290.2 133.6h0.01M292.6 127.1h0.01M295.2 125.8h0.01M303.9 139.7h0.01M303.4 124.6h0.01M306.0 137.0h0.01M308.3 134.0h0.01" stroke="#e6858d" stroke-width="1" stroke-linecap="round" fill="none"/>
<path d="M286.4 135.0L289.1 135.1 L291.4 134.1L293.9 134.6 L296.3 134.6L298.3 136.3 L300.6 137.1L301.9 139.2 L303.8 140.9L304.1 143.4 L305.8 145.7L304.5 148.1 L304.9 150.7L303.2 152.7 L302.9 155.5L299.7 155.8 L298.5 158.4L295.9 158.6 L293.6 160.1L291.2 158.6 L288.6 159.1L286.6 157.5 L284.4 156.5L283.1 154.4 L280.6 153.0L281.4 150.0 L279.7 147.9L280.8 145.5 L280.0 142.8L282.2 141.1 L282.2 138.1L284.9 137.3 L286.4 135.0Z" fill="#f4a2a6" stroke="#e6858d" stroke-width="0.8" stroke-linejoin="round"/><path d="M288.1 156.7h0.01M299.4 150.0h0.01M287.2 137.8h0.01M297.2 136.7h0.01M297.8 140.4h0.01M292.0 135.9h0.01M300.2 151.9h0.01" stroke="#e6858d" stroke-width="1" stroke-linecap="round" fill="none"/>
<path d="M261.3 135.4L263.5 136.8 L266.2 137.0L266.9 140.0 L269.9 140.8L269.7 143.7 L270.9 145.9L270.7 148.3 L271.0 150.8L269.2 152.8 L269.1 155.5L266.7 156.7 L265.3 158.7L262.8 159.2 L260.8 161.2L258.2 159.9 L255.6 161.1L253.6 158.9 L250.8 159.0L250.1 156.0 L247.6 154.9L247.4 152.3 L246.0 150.2L246.2 147.7 L245.6 145.1L247.9 143.3 L247.7 140.4L250.4 139.4 L251.7 137.2L254.3 137.2 L256.3 135.2L258.8 136.5 L261.3 135.4Z" fill="#f4a2a6" stroke="#e6858d" stroke-width="0.8" stroke-linejoin="round"/><path d="M249.9 144.4h0.01M266.0 155.7h0.01M266.2 150.0h0.01M261.8 140.6h0.01M250.1 152.3h0.01M250.0 151.6h0.01M249.3 147.7h0.01" stroke="#e6858d" stroke-width="1" stroke-linecap="round" fill="none"/>
<path d="M283.6 136.7L283.5 139.7 L285.3 141.6L284.9 144.1 L285.5 146.5L284.4 148.7 L284.5 151.5L281.6 152.4 L281.0 155.4L278.2 155.5 L276.4 157.6L273.7 157.0 L271.2 158.3L269.1 156.0 L266.2 156.4L265.0 153.9 L262.2 153.0L262.7 149.8 L259.9 148.2L261.4 145.5 L260.4 143.1L261.7 140.9 L261.4 138.0L263.8 136.7 L265.2 134.5L267.7 133.9 L269.8 132.6L272.3 132.6 L274.7 132.1L276.9 133.5 L279.4 133.9L280.6 136.2 L283.6 136.7Z" fill="#f4a2a6" stroke="#e6858d" stroke-width="0.8" stroke-linejoin="round"/><path d="M282.6 145.3h0.01M263.3 140.9h0.01M278.3 137.6h0.01M277.6 138.2h0.01M279.0 139.2h0.01M281.2 141.6h0.01M264.6 148.9h0.01" stroke="#e6858d" stroke-width="1" stroke-linecap="round" fill="none"/>
<path d="M348.6 140.5L347.1 142.7 L347.6 145.6L344.7 146.7 L343.9 149.2L341.6 150.2 L339.7 151.9L337.1 151.5 L334.7 153.2L332.6 151.1 L329.6 152.0L328.3 149.3 L326.0 148.3L324.9 146.1 L323.0 144.2L324.0 141.5 L322.0 139.1L323.7 136.8 L323.4 134.1L325.8 132.6 L326.3 129.7L329.5 129.9 L330.8 127.0L333.7 127.9 L336.0 127.0L338.3 128.2 L340.9 128.1L342.6 130.2 L345.3 130.9L345.6 133.7 L347.3 135.6L347.1 138.1 L348.6 140.5Z" fill="#f4a2a6" stroke="#e6858d" stroke-width="0.8" stroke-linejoin="round"/><path d="M332.1 149.5h0.01M344.8 135.5h0.01M327.6 138.3h0.01M333.2 131.8h0.01M343.3 139.7h0.01M342.6 138.3h0.01M337.0 131.3h0.01" stroke="#e6858d" stroke-width="1" stroke-linecap="round" fill="none"/>
<path d="M333.3 176.4L330.8 177.2 L329.5 179.8L326.7 179.1 L324.4 180.5L322.1 179.5 L319.5 180.0L317.9 177.7 L315.2 177.3L314.1 174.9 L312.5 173.1L312.7 170.5 L311.4 168.2L312.5 165.9 L312.2 163.4L313.6 161.3 L314.6 159.0L316.8 157.8 L318.7 156.3L321.2 155.9 L323.5 154.7L325.9 155.9 L328.6 155.4L330.2 157.9 L332.7 158.4L333.8 160.8 L335.5 162.5L335.2 165.2 L337.3 167.3L335.8 169.7 L336.0 172.3L334.1 174.1 L333.3 176.4Z" fill="#f4a2a6" stroke="#e6858d" stroke-width="0.8" stroke-linejoin="round"/><path d="M331.1 163.3h0.01M330.3 174.1h0.01M328.3 175.4h0.01M334.1 169.9h0.01M327.0 159.6h0.01M318.1 173.6h0.01M334.3 164.7h0.01" stroke="#e6858d" stroke-width="1" stroke-linecap="round" fill="none"/>
<path d="M347.6 160.8L345.1 159.5 L342.4 160.7L340.7 158.2 L337.9 158.1L337.1 155.5 L334.7 154.2L334.4 151.6 L333.4 149.3L334.2 146.9 L333.7 144.4L335.5 142.5 L335.3 139.4L338.3 138.9 L339.5 136.3L342.3 136.6 L344.4 134.6L346.9 136.0 L349.4 135.5L351.3 137.2 L354.0 137.6L355.2 139.9 L357.4 141.4L357.1 144.2 L359.2 146.2L357.7 148.7 L358.6 151.3L356.4 153.1 L356.2 155.8L353.9 157.0 L352.4 159.2L349.8 159.3 L347.6 160.8Z" fill="#f4a2a6" stroke="#e6858d" stroke-width="0.8" stroke-linejoin="round"/><path d="M346.4 138.2h0.01M340.6 140.8h0.01M338.4 140.8h0.01M354.9 154.2h0.01M340.8 153.6h0.01M351.1 154.8h0.01M354.0 151.5h0.01" stroke="#e6858d" stroke-width="1" stroke-linecap="round" fill="none"/>
<path d="M350.1 167.5L349.1 164.9 L346.9 163.6L346.3 161.2 L344.8 159.1L345.6 156.6 L344.6 154.1L346.2 152.0 L345.9 149.1L348.8 148.2 L349.6 145.3L352.5 145.2 L354.7 144.0L357.2 145.0 L359.7 144.0L361.8 145.2 L364.5 145.5L365.9 147.8 L368.5 148.9L368.3 151.8 L370.1 153.8L368.8 156.4 L369.6 158.8L368.5 161.0 L368.4 163.8L365.9 165.0 L364.7 167.4L362.0 167.6 L360.0 169.4L357.4 168.7 L354.9 168.9L352.9 167.5 L350.1 167.5Z" fill="#f4a2a6" stroke="#e6858d" stroke-width="0.8" stroke-linejoin="round"/><path d="M353.5 166.3h0.01M363.2 150.7h0.01M364.5 160.5h0.01M353.2 166.0h0.01M348.7 162.0h0.01M354.4 165.4h0.01M361.1 165.5h0.01" stroke="#e6858d" stroke-width="1" stroke-linecap="round" fill="none"/>
<path d="M376.0 181.4L376.5 178.9 L375.1 176.5L376.5 174.3 L376.8 171.8L379.1 170.4 L379.9 167.9L382.3 167.1 L384.4 165.6L386.9 165.8 L389.3 164.6L391.4 166.7 L394.2 166.3L395.5 168.7 L398.1 169.6L398.8 172.1 L400.1 174.2L399.4 176.7 L401.5 179.2L399.3 181.3 L399.2 183.8L397.1 185.3 L396.2 187.8L393.7 188.6 L391.7 190.0L389.1 189.4 L386.7 190.9L384.5 189.2 L381.6 189.7L380.3 187.2 L378.0 186.0L377.7 183.3 L376.0 181.4Z" fill="#f4a2a6" stroke="#e6858d" stroke-width="0.8" stroke-linejoin="round"/><path d="M393.8 168.2h0.01M398.0 179.7h0.01M394.7 170.6h0.01M390.1 188.0h0.01M387.0 169.8h0.01M382.9 171.5h0.01M396.3 180.0h0.01" stroke="#e6858d" stroke-width="1" stroke-linecap="round" fill="none"/>
<rect x="237.3" y="41.8" width="11.4" height="10.4" rx="4.3" fill="#d4757b" transform="rotate(-9 243.0 47.0)"/>
<rect x="262.3" y="42.8" width="11.4" height="10.4" rx="4.3" fill="#d4757b" transform="rotate(-11 268.0 48.0)"/>
<rect x="297.9" y="42.6" width="11.4" height="10.4" rx="4.3" fill="#d4757b" transform="rotate(7 303.6 47.8)"/>
<rect x="284.3" y="44.8" width="11.4" height="10.4" rx="4.3" fill="#d4757b" transform="rotate(0 290.0 50.0)"/>
<rect x="219.3" y="53.8" width="11.4" height="10.4" rx="4.3" fill="#d4757b" transform="rotate(10 225.0 59.0)"/>
<rect x="250.8" y="54.1" width="11.4" height="10.4" rx="4.3" fill="#d4757b" transform="rotate(-7 256.5 59.3)"/>
<rect x="275.8" y="54.5" width="11.4" height="10.4" rx="4.3" fill="#d4757b" transform="rotate(-23 281.5 59.7)"/>
<rect x="310.8" y="57.3" width="11.4" height="10.4" rx="4.3" fill="#d4757b" transform="rotate(10 316.5 62.5)"/>
<rect x="216.3" y="71.8" width="11.4" height="10.4" rx="4.3" fill="#d4757b" transform="rotate(-12 222.0 77.0)"/>
<rect x="230.3" y="78.8" width="11.4" height="10.4" rx="4.3" fill="#d4757b" transform="rotate(-8 236.0 84.0)"/>
<rect x="244.8" y="78.3" width="11.4" height="10.4" rx="4.3" fill="#d4757b" transform="rotate(-2 250.5 83.5)"/>
<rect x="311.8" y="72.8" width="11.4" height="10.4" rx="4.3" fill="#d4757b" transform="rotate(6 317.5 78.0)"/>
<rect x="316.3" y="89.8" width="11.4" height="10.4" rx="4.3" fill="#d4757b" transform="rotate(-17 322.0 95.0)"/>
<rect x="219.0" y="89.8" width="11.4" height="10.4" rx="4.3" fill="#d4757b" transform="rotate(-2 224.7 95.0)"/>
<rect x="237.9" y="99.3" width="11.4" height="10.4" rx="4.3" fill="#d4757b" transform="rotate(13 243.6 104.5)"/>
<rect x="297.6" y="86.8" width="11.4" height="10.4" rx="4.3" fill="#d4757b" transform="rotate(-21 303.3 92.0)"/>
<rect x="225.3" y="106.8" width="11.4" height="10.4" rx="4.3" fill="#d4757b" transform="rotate(-7 231.0 112.0)"/>
<rect x="254.8" y="104.8" width="11.4" height="10.4" rx="4.3" fill="#d4757b" transform="rotate(5 260.5 110.0)"/>
<rect x="306.0" y="109.1" width="11.4" height="10.4" rx="4.3" fill="#d4757b" transform="rotate(8 311.7 114.3)"/>
<rect x="290.3" y="102.8" width="11.4" height="10.4" rx="4.3" fill="#d4757b" transform="rotate(25 296.0 108.0)"/>
<rect x="237.3" y="122.8" width="11.4" height="10.4" rx="4.3" fill="#d4757b" transform="rotate(-15 243.0 128.0)"/>
<rect x="251.3" y="118.8" width="11.4" height="10.4" rx="4.3" fill="#d4757b" transform="rotate(4 257.0 124.0)"/>
<rect x="273.0" y="121.9" width="11.4" height="10.4" rx="4.3" fill="#d4757b" transform="rotate(-6 278.7 127.1)"/>
<rect x="296.5" y="129.0" width="11.4" height="10.4" rx="4.3" fill="#d4757b" transform="rotate(5 302.2 134.2)"/>
<rect x="288.8" y="143.8" width="11.4" height="10.4" rx="4.3" fill="#d4757b" transform="rotate(-5 294.5 149.0)"/>
<rect x="254.8" y="145.0" width="11.4" height="10.4" rx="4.3" fill="#d4757b" transform="rotate(11 260.5 150.2)"/>
<rect x="269.3" y="141.8" width="11.4" height="10.4" rx="4.3" fill="#d4757b" transform="rotate(-25 275.0 147.0)"/>
<rect x="331.7" y="136.8" width="11.4" height="10.4" rx="4.3" fill="#d4757b" transform="rotate(-6 337.4 142.0)"/>
<rect x="320.3" y="164.8" width="11.4" height="10.4" rx="4.3" fill="#d4757b" transform="rotate(-8 326.0 170.0)"/>
<rect x="342.3" y="144.8" width="11.4" height="10.4" rx="4.3" fill="#d4757b" transform="rotate(23 348.0 150.0)"/>
<rect x="353.6" y="153.5" width="11.4" height="10.4" rx="4.3" fill="#d4757b" transform="rotate(-6 359.3 158.7)"/>
<rect x="384.3" y="174.8" width="11.4" height="10.4" rx="4.3" fill="#d4757b" transform="rotate(25 390.0 180.0)"/>
<path d="M256.0 70.0 C256.7 68.3 260.0 67.8 262.0 68.0 C264.0 68.2 265.7 70.4 268.0 71.0 C270.3 71.6 273.3 71.3 276.0 71.5 C278.7 71.7 281.7 71.4 284.0 72.0 C286.3 72.6 288.8 73.5 290.0 75.0 C291.2 76.5 291.2 78.8 291.0 81.0 C290.8 83.2 289.2 85.8 289.0 88.0 C288.8 90.2 289.2 92.0 290.0 94.0 C290.8 96.0 292.7 98.0 294.0 100.0 C295.3 102.0 298.3 105.5 298.0 106.0 C297.7 106.5 294.0 104.2 292.0 103.0 C290.0 101.8 288.0 99.5 286.0 99.0 C284.0 98.5 282.2 99.8 280.0 100.0 C277.8 100.2 275.3 99.8 273.0 100.0 C270.7 100.2 268.2 101.2 266.0 101.0 C263.8 100.8 261.7 99.9 260.0 99.0 C258.3 98.1 256.3 97.0 256.0 95.5 C255.7 94.0 257.2 91.8 258.0 90.0 C258.8 88.2 260.5 86.5 260.5 84.5 C260.5 82.5 258.8 80.4 258.0 78.0 C257.2 75.6 255.3 71.7 256.0 70.0Z" fill="#c27f6e"/>
<path d="M259.5 72.5 C261.3 71.7 266.9 73.0 270.0 73.0 C273.1 73.0 275.2 72.2 278.0 72.5 C280.8 72.8 284.9 73.2 287.0 74.5 C289.1 75.8 290.2 77.8 290.5 80.0 C290.8 82.2 289.1 85.7 289.0 88.0 C288.9 90.3 289.1 91.8 290.0 94.0 C290.9 96.2 293.2 99.0 294.5 101.0 C295.8 103.0 298.8 105.8 298.0 106.0 C297.2 106.2 292.3 103.2 290.0 102.0 C287.7 100.8 286.2 98.9 284.0 98.5 C281.8 98.1 279.3 99.5 277.0 99.5 C274.7 99.5 272.3 98.8 270.0 98.5 C267.7 98.2 264.8 98.6 263.0 97.5 C261.2 96.4 259.2 94.2 259.0 92.0 C258.8 89.8 262.0 86.8 262.0 84.5 C262.0 82.2 259.4 80.0 259.0 78.0 C258.6 76.0 257.7 73.3 259.5 72.5Z" fill="#6e3b34"/>
<path d="M264.5 77.0 C266.2 75.2 270.9 75.8 274.0 75.5 C277.1 75.2 280.7 74.8 283.0 75.5 C285.3 76.2 287.2 77.9 288.0 80.0 C288.8 82.1 287.4 85.7 287.5 88.0 C287.6 90.3 287.6 92.0 288.5 94.0 C289.4 96.0 291.8 98.2 293.0 100.0 C294.2 101.8 297.2 104.7 296.0 104.5 C294.8 104.3 288.5 100.5 286.0 99.0 C283.5 97.5 283.2 95.9 281.0 95.5 C278.8 95.1 275.4 96.8 273.0 96.5 C270.6 96.2 268.0 95.2 266.5 93.5 C265.0 91.8 264.3 88.8 264.0 86.0 C263.7 83.2 262.8 78.8 264.5 77.0Z" fill="#44201c"/>
<path d="M270.0 83.0 C271.2 81.5 274.0 79.5 276.0 79.0 C278.0 78.5 280.7 79.0 282.0 80.0 C283.3 81.0 284.2 83.5 284.0 85.0 C283.8 86.5 281.3 87.7 280.5 89.0 C279.7 90.3 278.4 91.7 279.0 93.0 C279.6 94.3 284.5 96.5 284.0 97.0 C283.5 97.5 278.0 96.8 276.0 96.0 C274.0 95.2 273.2 93.3 272.0 92.0 C270.8 90.7 269.3 89.5 269.0 88.0 C268.7 86.5 268.8 84.5 270.0 83.0Z" fill="#220d0c"/>
<path d="M236.8 45.7 L237.1 48.8 L238.2 51.3 L239.2 54.3 L240.5 54.5 L242.0 53.3 L241.9 56.0 L244.3 58.3 L247.4 59.4 L249.5 57.7 L250.6 58.6 L253.3 57.9 L257.6 57.3 L253.4 59.6 L251.5 59.9 L249.6 60.9 L249.5 62.4 L247.9 62.6 L246.7 63.6 L245.0 66.5 L244.9 69.9 L246.4 71.0 L247.2 74.0 L245.1 72.4 L243.4 69.3 L240.9 67.6 L236.8 66.7 L234.3 66.9 L232.6 68.4 L229.7 69.7 L231.7 67.1 L233.2 65.2 L232.7 62.9 L228.2 61.9 L225.2 62.3 L221.7 61.7 L225.3 60.7 L228.1 60.2 L228.2 58.6 L230.1 58.7 L231.5 59.4 L235.3 57.7 L237.1 55.8 L236.1 53.6 L236.7 50.8Z" fill="#f4dc7c" stroke="#f4dc7c" stroke-width="0.7" stroke-linejoin="round"/><ellipse cx="240.0" cy="62.0" rx="3.0" ry="2.4" fill="#e3b738" transform="rotate(50 240.0 62.0)"/>
<path d="M230.2 69.4 L229.5 72.5 L228.2 74.9 L226.9 77.8 L225.7 77.9 L224.2 76.6 L224.2 79.3 L221.6 81.3 L218.3 82.2 L216.4 80.3 L215.2 81.1 L212.6 80.1 L208.4 79.2 L212.4 81.8 L214.2 82.3 L216.0 83.4 L216.0 85.0 L217.6 85.3 L218.7 86.4 L220.1 89.4 L219.9 92.8 L218.3 93.8 L217.2 96.8 L219.5 95.4 L221.5 92.4 L224.1 90.9 L228.3 90.4 L230.8 90.8 L232.3 92.4 L235.1 93.9 L233.3 91.2 L232.0 89.2 L232.7 86.9 L237.2 86.3 L240.2 87.0 L243.7 86.7 L240.2 85.4 L237.5 84.6 L237.6 83.1 L235.7 83.0 L234.2 83.6 L230.6 81.5 L228.9 79.5 L230.1 77.4 L229.8 74.5Z" fill="#f4dc7c" stroke="#f4dc7c" stroke-width="0.7" stroke-linejoin="round"/><ellipse cx="225.5" cy="85.4" rx="3.0" ry="2.4" fill="#e3b738" transform="rotate(15 225.5 85.4)"/>
<path d="M263.3 35.7 L264.7 38.4 L266.5 40.3 L268.4 42.6 L269.5 42.4 L270.5 40.8 L271.2 43.3 L274.1 44.5 L277.3 44.5 L278.5 42.3 L279.9 42.7 L282.0 41.2 L285.6 39.3 L282.7 42.7 L281.0 43.6 L279.7 45.1 L280.1 46.5 L278.7 47.2 L278.0 48.5 L277.4 51.5 L278.4 54.6 L280.1 55.1 L281.9 57.6 L279.4 56.9 L276.9 54.6 L274.1 53.9 L270.1 54.4 L268.0 55.4 L267.0 57.3 L264.8 59.4 L265.7 56.4 L266.5 54.2 L265.3 52.4 L261.0 52.9 L258.4 54.2 L255.1 54.9 L258.0 52.8 L260.3 51.5 L259.9 50.0 L261.6 49.5 L263.1 49.7 L265.9 46.9 L266.9 44.6 L265.3 43.0 L264.9 40.3Z" fill="#f8c66c" stroke="#f8c66c" stroke-width="0.7" stroke-linejoin="round"/><ellipse cx="271.5" cy="49.2" rx="2.9" ry="2.2" fill="#e09a30" transform="rotate(30 271.5 49.2)"/>
<path d="M315.7 79.9 L315.8 83.1 L316.7 85.7 L317.4 88.8 L318.7 89.1 L320.3 88.1 L319.9 90.7 L322.1 93.2 L325.1 94.6 L327.3 93.0 L328.4 94.0 L331.1 93.5 L335.4 93.3 L331.1 95.3 L329.1 95.4 L327.2 96.2 L327.0 97.8 L325.3 97.8 L324.0 98.7 L322.1 101.4 L321.7 104.8 L323.1 106.0 L323.7 109.1 L321.7 107.4 L320.3 104.1 L317.9 102.1 L313.9 100.9 L311.4 100.9 L309.6 102.2 L306.6 103.3 L308.8 100.8 L310.4 99.1 L310.2 96.7 L305.8 95.3 L302.8 95.5 L299.3 94.6 L303.0 93.9 L305.8 93.7 L306.0 92.1 L307.9 92.3 L309.3 93.2 L313.2 91.8 L315.2 90.1 L314.3 87.8 L315.2 85.0Z" fill="#f8c66c" stroke="#f8c66c" stroke-width="0.7" stroke-linejoin="round"/><ellipse cx="317.5" cy="96.5" rx="3.0" ry="2.4" fill="#e09a30" transform="rotate(55 317.5 96.5)"/>
<path d="M317.8 97.0 L317.8 97.0 L317.8 97.0 L317.8 97.0 L317.8 97.0 L317.8 97.0 L317.8 97.0 L317.8 97.0 L317.8 97.0 L317.8 97.0 L317.8 97.0 L317.8 97.0 L317.8 97.0 L317.8 97.0 L317.8 97.0 L317.8 97.0 L317.8 97.0 L317.8 97.0 L317.8 97.0 L317.8 97.0 L317.8 97.0 L317.8 97.0 L317.8 97.0 L317.8 97.0 L317.8 97.0 L317.8 97.0 L317.8 97.0 L317.8 97.0 L317.8 97.0 L317.8 97.0 L317.8 97.0 L317.8 97.0 L317.8 97.0 L317.8 97.0 L317.8 97.0 L317.8 97.0 L317.8 97.0 L317.8 97.0 L317.8 97.0 L317.8 97.0 L317.8 97.0 L317.8 97.0 L317.8 97.0 L317.8 97.0 L317.8 97.0Z" fill="#f8c66c" stroke="#f8c66c" stroke-width="0.7" stroke-linejoin="round"/><ellipse cx="317.8" cy="97.0" rx="0.0" ry="0.0" fill="#e09a30" transform="rotate(30 317.8 97.0)"/>
<path d="M265.8 125.3 L266.6 128.2 L268.1 130.4 L269.5 133.0 L270.7 132.9 L272.0 131.6 L272.3 134.1 L274.9 135.8 L278.0 136.4 L279.6 134.4 L280.9 135.1 L283.3 133.9 L287.1 132.7 L283.6 135.6 L281.9 136.2 L280.3 137.3 L280.5 138.8 L278.9 139.3 L278.0 140.4 L276.9 143.3 L277.4 146.5 L279.0 147.4 L280.2 150.0 L278.0 148.9 L275.9 146.3 L273.3 145.1 L269.3 144.9 L267.0 145.5 L265.7 147.2 L263.2 148.9 L264.6 146.1 L265.7 144.1 L264.8 142.0 L260.5 141.8 L257.8 142.7 L254.4 142.7 L257.6 141.2 L260.1 140.3 L259.9 138.8 L261.7 138.5 L263.2 139.0 L266.4 136.7 L267.8 134.7 L266.5 132.8 L266.6 130.1Z" fill="#f8c66c" stroke="#f8c66c" stroke-width="0.7" stroke-linejoin="round"/><ellipse cx="271.5" cy="140.0" rx="2.9" ry="2.2" fill="#e09a30" transform="rotate(40 271.5 140.0)"/>
<path d="M275.4 148.3 L274.6 151.2 L273.1 153.4 L271.7 156.0 L270.5 155.9 L269.2 154.6 L268.9 157.1 L266.3 158.8 L263.2 159.4 L261.6 157.4 L260.3 158.1 L257.9 156.9 L254.1 155.7 L257.6 158.6 L259.3 159.2 L260.9 160.3 L260.7 161.8 L262.3 162.3 L263.2 163.4 L264.3 166.3 L263.8 169.5 L262.2 170.4 L261.0 173.0 L263.2 171.9 L265.3 169.3 L267.9 168.1 L271.9 167.9 L274.2 168.5 L275.5 170.2 L278.0 171.9 L276.6 169.1 L275.5 167.1 L276.4 165.0 L280.7 164.8 L283.4 165.7 L286.8 165.7 L283.6 164.2 L281.1 163.3 L281.3 161.8 L279.5 161.5 L278.0 162.0 L274.8 159.7 L273.4 157.7 L274.7 155.8 L274.6 153.1Z" fill="#f8c66c" stroke="#f8c66c" stroke-width="0.7" stroke-linejoin="round"/><ellipse cx="269.7" cy="163.0" rx="2.9" ry="2.2" fill="#e09a30" transform="rotate(20 269.7 163.0)"/>
<path d="M337.3 105.0 L338.0 108.1 L339.3 110.5 L340.6 113.4 L341.8 113.5 L343.3 112.2 L343.3 114.9 L345.9 116.9 L349.2 117.8 L351.1 115.9 L352.3 116.7 L354.9 115.7 L359.1 114.8 L355.1 117.4 L353.3 117.9 L351.5 119.0 L351.5 120.6 L349.9 120.9 L348.8 122.0 L347.4 125.0 L347.6 128.4 L349.2 129.4 L350.3 132.4 L348.0 131.0 L346.0 128.0 L343.4 126.5 L339.2 126.0 L336.7 126.4 L335.2 128.0 L332.4 129.5 L334.2 126.8 L335.5 124.8 L334.8 122.5 L330.3 121.9 L327.3 122.6 L323.8 122.3 L327.3 121.0 L330.0 120.2 L329.9 118.7 L331.8 118.6 L333.3 119.2 L336.9 117.1 L338.6 115.1 L337.4 113.0 L337.7 110.1Z" fill="#f8c66c" stroke="#f8c66c" stroke-width="0.7" stroke-linejoin="round"/><ellipse cx="342.0" cy="121.0" rx="3.0" ry="2.4" fill="#e09a30" transform="rotate(45 342.0 121.0)"/>
<path d="M337.0 122.0 L337.0 122.0 L337.0 122.0 L337.0 122.0 L337.0 122.0 L337.0 122.0 L337.0 122.0 L337.0 122.0 L337.0 122.0 L337.0 122.0 L337.0 122.0 L337.0 122.0 L337.0 122.0 L337.0 122.0 L337.0 122.0 L337.0 122.0 L337.0 122.0 L337.0 122.0 L337.0 122.0 L337.0 122.0 L337.0 122.0 L337.0 122.0 L337.0 122.0 L337.0 122.0 L337.0 122.0 L337.0 122.0 L337.0 122.0 L337.0 122.0 L337.0 122.0 L337.0 122.0 L337.0 122.0 L337.0 122.0 L337.0 122.0 L337.0 122.0 L337.0 122.0 L337.0 122.0 L337.0 122.0 L337.0 122.0 L337.0 122.0 L337.0 122.0 L337.0 122.0 L337.0 122.0 L337.0 122.0 L337.0 122.0 L337.0 122.0Z" fill="#f8c66c" stroke="#f8c66c" stroke-width="0.7" stroke-linejoin="round"/><ellipse cx="337.0" cy="122.0" rx="0.0" ry="0.0" fill="#e09a30" transform="rotate(30 337.0 122.0)"/>
<path d="M377.2 171.8 L376.0 174.4 L374.3 176.2 L372.5 178.4 L371.4 178.1 L370.4 176.7 L369.8 179.0 L367.0 180.2 L364.1 180.2 L362.9 178.1 L361.6 178.5 L359.6 177.0 L356.2 175.2 L359.0 178.5 L360.5 179.3 L361.8 180.7 L361.3 182.0 L362.7 182.7 L363.4 183.9 L363.9 186.8 L363.0 189.7 L361.3 190.2 L359.7 192.5 L362.0 191.8 L364.4 189.7 L367.0 189.0 L370.8 189.5 L372.8 190.5 L373.8 192.2 L375.8 194.2 L374.9 191.4 L374.3 189.4 L375.4 187.6 L379.4 188.1 L381.8 189.4 L385.0 190.0 L382.2 188.0 L380.0 186.7 L380.5 185.4 L378.9 184.9 L377.4 185.0 L374.8 182.4 L373.8 180.3 L375.4 178.7 L375.7 176.2Z" fill="#f8c66c" stroke="#f8c66c" stroke-width="0.7" stroke-linejoin="round"/><ellipse cx="369.5" cy="184.6" rx="2.7" ry="2.1" fill="#e09a30" transform="rotate(30 369.5 184.6)"/>
<path d="M397.0 189.3 L398.7 191.6 L400.7 193.0 L402.8 194.9 L403.8 194.5 L404.5 192.9 L405.6 195.0 L408.5 195.7 L411.4 195.2 L412.2 192.9 L413.5 193.1 L415.3 191.3 L418.3 189.0 L416.1 192.6 L414.8 193.7 L413.7 195.3 L414.4 196.6 L413.2 197.5 L412.7 198.8 L412.7 201.7 L414.1 204.4 L415.8 204.6 L417.8 206.6 L415.4 206.3 L412.7 204.6 L410.0 204.4 L406.4 205.6 L404.6 206.9 L403.9 208.8 L402.3 211.1 L402.6 208.1 L402.9 206.0 L401.5 204.4 L397.6 205.7 L395.5 207.3 L392.5 208.5 L394.8 206.1 L396.8 204.4 L396.1 203.2 L397.6 202.4 L399.1 202.3 L401.2 199.2 L401.8 197.0 L400.0 195.7 L399.2 193.3Z" fill="#f8c66c" stroke="#f8c66c" stroke-width="0.7" stroke-linejoin="round"/><ellipse cx="406.8" cy="200.5" rx="2.7" ry="2.1" fill="#e09a30" transform="rotate(20 406.8 200.5)"/>
<circle cx="211.4" cy="33.5" r="10.4" fill="#d07fba" stroke="#c46cae" stroke-width="0.8"/><circle cx="212.3" cy="34.5" r="7.6" fill="#c566a8"/><circle cx="212.4" cy="34.6" r="6.5" fill="#b6478f"/>
<circle cx="302.8" cy="66.6" r="10.4" fill="#d07fba" stroke="#c46cae" stroke-width="0.8"/><circle cx="303.7" cy="67.6" r="7.6" fill="#c566a8"/><circle cx="303.8" cy="67.7" r="6.5" fill="#b6478f"/>
<circle cx="252.7" cy="121.8" r="10.4" fill="#d07fba" stroke="#c46cae" stroke-width="0.8"/><circle cx="253.6" cy="122.8" r="7.6" fill="#c566a8"/><circle cx="253.7" cy="122.9" r="6.5" fill="#b6478f"/>
<circle cx="290.5" cy="116.6" r="10.4" fill="#d07fba" stroke="#c46cae" stroke-width="0.8"/><circle cx="291.4" cy="117.6" r="7.6" fill="#c566a8"/><circle cx="291.5" cy="117.7" r="6.5" fill="#b6478f"/>
<circle cx="303.2" cy="167.6" r="10.4" fill="#d07fba" stroke="#c46cae" stroke-width="0.8"/><circle cx="304.1" cy="168.6" r="7.6" fill="#c566a8"/><circle cx="304.2" cy="168.7" r="6.5" fill="#b6478f"/>
<circle cx="341.6" cy="158.9" r="10.4" fill="#d07fba" stroke="#c46cae" stroke-width="0.8"/><circle cx="342.5" cy="159.9" r="7.6" fill="#c566a8"/><circle cx="342.6" cy="160.0" r="6.5" fill="#b6478f"/>
<circle cx="363.0" cy="137.2" r="10.4" fill="#d07fba" stroke="#c46cae" stroke-width="0.8"/><circle cx="363.9" cy="138.2" r="7.6" fill="#c566a8"/><circle cx="364.0" cy="138.3" r="6.5" fill="#b6478f"/>
<circle cx="411.4" cy="182.0" r="10.4" fill="#d07fba" stroke="#c46cae" stroke-width="0.8"/><circle cx="412.3" cy="183.0" r="7.6" fill="#c566a8"/><circle cx="412.4" cy="183.1" r="6.5" fill="#b6478f"/>
<circle cx="225.0" cy="108.4" r="10.4" fill="#86c19b" stroke="#6db287" stroke-width="0.8"/><circle cx="225.9" cy="109.4" r="7.6" fill="#66b083"/><circle cx="226.0" cy="109.5" r="6.5" fill="#45995f"/>
<circle cx="317.0" cy="137.5" r="10.4" fill="#86c19b" stroke="#6db287" stroke-width="0.8"/><circle cx="317.9" cy="138.5" r="7.6" fill="#66b083"/><circle cx="318.0" cy="138.6" r="6.5" fill="#45995f"/>
<circle cx="426.0" cy="203.2" r="10.4" fill="#86c19b" stroke="#6db287" stroke-width="0.8"/><circle cx="426.9" cy="204.2" r="7.6" fill="#66b083"/><circle cx="427.0" cy="204.3" r="6.5" fill="#45995f"/>
<g fill="none" stroke="#333" stroke-width="0.7">
<circle cx="291.6" cy="136.2" r="25.3"/><circle cx="342.4" cy="158" r="25.5"/><circle cx="401" cy="178.7" r="24.8"/>
<path d="M272.6 153.8 L170 220.6"/><path d="M323 177.5 L273.4 220.6"/><path d="M404 206.3 L417.5 221.5"/>
</g>
<text x="142.3" y="235.4" font-size="15.3">CORE</text>
<text x="208.3" y="235.4" font-size="15.3">TRANSITION ZONE</text>
<text x="372" y="235.4" font-size="15.3">PERIPHERY</text>
<path d="M543.1 51.9L541.3 54.6 L541.7 57.7L539.3 59.6 L538.9 63.0L535.5 63.4 L533.7 66.0L530.6 65.8 L527.8 67.4L525.0 66.1 L521.9 66.2L520.0 63.5 L516.8 62.9L516.3 59.6 L513.1 58.0L514.1 54.6 L512.5 51.9L513.9 49.1 L513.9 46.2L516.0 44.0 L516.6 40.7L520.1 40.4 L521.7 37.1L525.1 38.1 L527.8 36.1L530.5 38.2 L533.7 37.7L535.5 40.4 L538.3 41.4L539.2 44.3 L542.6 45.8L541.6 49.2 L543.1 51.9Z" fill="#f4a2a6" stroke="#e6858d" stroke-width="0.8" stroke-linejoin="round"/><path d="M515.4 54.9h0.01M517.4 43.8h0.01M521.8 59.4h0.01M536.0 47.4h0.01M530.8 40.9h0.01M540.7 50.5h0.01M523.1 44.5h0.01" stroke="#e6858d" stroke-width="1" stroke-linecap="round" fill="none"/><rect x="523.4" y="48.4" width="13.4" height="12.3" rx="5.0" fill="#d4757b" transform="rotate(-24 530.1 54.6)"/>
<path d="M518.5 68.6 L520.0 71.6 L522.0 73.7 L524.1 76.3 L525.4 76.0 L526.5 74.3 L527.3 77.0 L530.5 78.4 L534.0 78.4 L535.4 75.9 L536.9 76.4 L539.3 74.7 L543.3 72.6 L540.0 76.4 L538.2 77.4 L536.7 79.0 L537.2 80.6 L535.6 81.4 L534.8 82.8 L534.2 86.2 L535.3 89.6 L537.2 90.2 L539.1 92.9 L536.4 92.1 L533.6 89.6 L530.5 88.8 L526.1 89.4 L523.7 90.5 L522.6 92.6 L520.2 94.9 L521.2 91.6 L522.0 89.2 L520.7 87.1 L515.9 87.7 L513.1 89.2 L509.4 89.9 L512.6 87.6 L515.2 86.1 L514.7 84.5 L516.6 83.9 L518.3 84.1 L521.4 81.0 L522.5 78.5 L520.7 76.7 L520.3 73.7Z" fill="#f4dc7c" stroke="#f4dc7c" stroke-width="0.7" stroke-linejoin="round"/><ellipse cx="527.6" cy="83.6" rx="3.2" ry="2.5" fill="#e3b738" transform="rotate(30 527.6 83.6)"/>
<circle cx="528.2" cy="114.8" r="14.7" fill="#d07fba" stroke="#c46cae" stroke-width="0.8"/><circle cx="529.4" cy="116.2" r="10.6" fill="#c566a8"/><circle cx="529.6" cy="116.3" r="9.1" fill="#b6478f"/>
<circle cx="527.9" cy="152.5" r="15.2" fill="#86c19b" stroke="#6db287" stroke-width="0.8"/><circle cx="529.1" cy="153.9" r="10.9" fill="#66b083"/><circle cx="529.3" cy="154.1" r="9.4" fill="#45995f"/>
<text x="546.6" y="57.4" font-size="14.1">Tumor cell</text>
<text x="546.2" y="90.3" font-size="14.1">IBA1+ cell</text>
<text x="546.2" y="123.4" font-size="14.1">CD8+ cell</text>
<text x="546.2" y="155.2" font-size="14.1">FOXP3+ cell</text>
<path d="M42.9 320.8 L42.9 476.2 L178.7 476.2" fill="none" stroke="#c6c6c6" stroke-width="1.3"/><text x="40.9" y="342.5" font-size="12.4" text-anchor="end">10.000</text><text x="40.9" y="377.0" font-size="12.4" text-anchor="end">1.000</text><text x="40.9" y="411.2" font-size="12.4" text-anchor="end">100</text><text x="40.9" y="444.8" font-size="12.4" text-anchor="end">10</text><text x="40.9" y="481.4" font-size="12.4" text-anchor="end">0</text><path d="M75.4 358.4 Q128 364.5 178.3 392.3" fill="none" stroke="#6d3812" stroke-width="3" stroke-linecap="butt"/><path d="M75.4 381.6 Q130 381.4 178.3 397.3" fill="none" stroke="#e6cd1d" stroke-width="3" stroke-linecap="butt"/><path d="M75.9 435.0 Q132.9 435.0 177.5 454.9" fill="none" stroke="#ff41cd" stroke-width="3" stroke-linecap="butt"/><path d="M75.9 461.0 Q131.1 461.0 177.5 475.0" fill="none" stroke="#10a03e" stroke-width="3" stroke-linecap="butt"/><text transform="translate(72.9 487.9) rotate(35)" font-size="12.3">Core</text><text transform="translate(114.9 489.9) rotate(35)" font-size="12.3">Transition zone</text><text transform="translate(167.4 487.9) rotate(35)" font-size="12.3">Periphery</text>
<text x="68.4" y="304" font-size="17">Cell density</text>
<path d="M268.3 323.0 L268.3 477.7 L422.5 477.7" fill="none" stroke="#c6c6c6" stroke-width="1.3"/><text x="266.3" y="344.3" font-size="12.4" text-anchor="end">1,0</text><text x="266.3" y="385.1" font-size="12.4" text-anchor="end">0,8</text><text x="266.3" y="403.8" font-size="12.4" text-anchor="end">0,6</text><text x="266.3" y="422.5" font-size="12.4" text-anchor="end">0,4</text><text x="266.3" y="441.8" font-size="12.4" text-anchor="end">0,2</text><text x="266.3" y="482.9" font-size="12.4" text-anchor="end">0,0</text><path d="M305.7 436.8 C350 433 378 413 419.6 382.8" fill="none" stroke="#e6cd1d" stroke-width="3" stroke-linecap="butt"/><path d="M305.7 471.0 C324.7 470.1 400.6 466.6 419.6 465.7" fill="none" stroke="#ff41cd" stroke-width="3" stroke-linecap="butt"/><path d="M305.7 475.3 C324.7 475.2 400.6 475.1 419.6 475.0" fill="none" stroke="#10a03e" stroke-width="3" stroke-linecap="butt"/><text transform="translate(307.9 489.4) rotate(35)" font-size="12.3">Core</text><text transform="translate(354.2 489.4) rotate(35)" font-size="12.3">Transition zone</text><text transform="translate(411.9 488.4) rotate(35)" font-size="12.3">Periphery</text>
<text x="290.8" y="293" font-size="17.2">Immune to tumor</text>
<text x="291.2" y="313.8" font-size="17.2">cell ratio</text>
<path d="M513.8 320.0 L513.8 475.9 L654.0 475.9" fill="none" stroke="#c6c6c6" stroke-width="1.3"/><text x="511.8" y="342.5" font-size="12.4" text-anchor="end">10.000</text><text x="511.8" y="377.0" font-size="12.4" text-anchor="end">1.000</text><text x="511.8" y="411.4" font-size="12.4" text-anchor="end">100</text><text x="511.8" y="444.7" font-size="12.4" text-anchor="end">10</text><text x="511.8" y="481.4" font-size="12.4" text-anchor="end">0</text><path d="M547.4 367.6 Q577.7 367.9 648.7 406.7" fill="none" stroke="#e6cd1d" stroke-width="3" stroke-linecap="butt"/><path d="M547.4 413.4 Q590.1 419.9 648.7 457.2" fill="none" stroke="#ff41cd" stroke-width="3" stroke-linecap="butt"/><path d="M547.4 437.4 Q574.2 445.9 648.7 475.9" fill="none" stroke="#10a03e" stroke-width="3" stroke-linecap="butt"/><text transform="translate(548.9 487.9) rotate(35)" font-size="12.3">Core</text><text transform="translate(590.2 489.9) rotate(35)" font-size="12.3">Transition zone</text><text transform="translate(637.9 487.9) rotate(35)" font-size="12.3">Periphery</text>
<text x="535.6" y="258.5" font-size="17">Tumor cells</text>
<text x="535.8" y="279.3" font-size="17">with immune</text>
<text x="535.8" y="300" font-size="17">cells in close</text>
<text x="535.2" y="320.7" font-size="17">proximity/mm<tspan font-size="11.5" dy="-4.5">2</tspan></text>
<path d="M171.8 576.1L170.2 578.9 L170.8 582.2L168.2 584.2 L167.3 587.4L164.1 588.3 L161.8 590.0L158.8 590.0 L156.0 592.3L153.2 590.2 L149.8 591.0L148.3 587.6 L145.0 587.1L144.4 583.9 L141.5 582.1L142.0 578.9 L141.0 576.1L142.3 573.4 L141.8 570.2L143.8 568.0 L144.7 564.8L148.3 564.5 L149.9 561.3L153.3 562.5 L156.0 560.3L158.7 562.5 L161.7 562.2L164.1 564.0 L166.8 565.3L167.6 568.3 L171.0 569.9L170.3 573.3 L171.8 576.1Z" fill="#c59b87" stroke="#b98a76" stroke-width="0.8" stroke-linejoin="round"/><path d="M152.8 588.9h0.01M144.5 573.2h0.01M159.7 588.7h0.01M151.2 563.7h0.01M163.9 569.8h0.01M149.9 583.4h0.01M161.5 583.2h0.01" stroke="#b98a76" stroke-width="1" stroke-linecap="round" fill="none"/><rect x="151.6" y="572.5" width="13.6" height="12.5" rx="5.1" fill="#96583f" transform="rotate(-6 158.4 578.8)"/>
<path d="M256.3 565.5 L257.7 568.4 L259.6 570.4 L261.6 572.9 L262.8 572.6 L263.9 571.0 L264.6 573.5 L267.7 574.9 L271.0 574.9 L272.3 572.5 L273.7 573.0 L276.0 571.3 L279.8 569.3 L276.7 573.0 L275.0 573.9 L273.5 575.4 L274.0 576.9 L272.5 577.7 L271.7 579.0 L271.2 582.3 L272.2 585.5 L274.0 586.1 L275.8 588.6 L273.3 587.9 L270.6 585.5 L267.7 584.7 L263.5 585.3 L261.2 586.4 L260.1 588.3 L257.9 590.5 L258.8 587.4 L259.6 585.1 L258.3 583.1 L253.8 583.7 L251.1 585.1 L247.6 585.8 L250.6 583.6 L253.1 582.2 L252.6 580.7 L254.4 580.1 L256.1 580.3 L259.0 577.3 L260.1 575.0 L258.3 573.2 L258.0 570.4Z" fill="#f4dc7c" stroke="#f4dc7c" stroke-width="0.7" stroke-linejoin="round"/><ellipse cx="264.9" cy="579.8" rx="3.0" ry="2.4" fill="#e3b738" transform="rotate(30 264.9 579.8)"/>
<circle cx="382.0" cy="575.4" r="14.7" fill="#d07fba" stroke="#c46cae" stroke-width="0.8"/><circle cx="383.2" cy="576.8" r="10.6" fill="#c566a8"/><circle cx="383.4" cy="576.9" r="9.1" fill="#b6478f"/>
<circle cx="495.8" cy="575.4" r="15.0" fill="#86c19b" stroke="#6db287" stroke-width="0.8"/><circle cx="497.0" cy="576.8" r="10.8" fill="#66b083"/><circle cx="497.2" cy="576.9" r="9.2" fill="#45995f"/>
<text x="178.8" y="581.3" font-size="17">Tumor</text>
<text x="290" y="581.3" font-size="17">IBA1+</text>
<text x="401.6" y="581.3" font-size="17">CD8+</text>
<text x="511.5" y="581.3" font-size="17">FOXP3+</text>
</svg></body></html>
